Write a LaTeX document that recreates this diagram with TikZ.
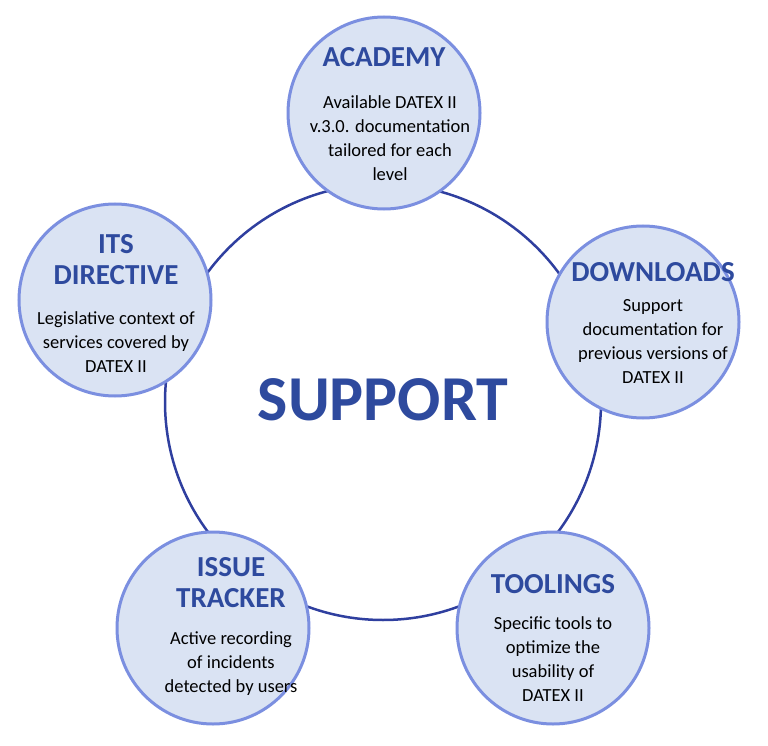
\documentclass[tikz,border=0pt]{standalone}
\usepackage{fontspec}
\setmainfont{Carlito}
\definecolor{ring}{HTML}{2F3F9F}
\definecolor{cfill}{HTML}{DAE3F3}
\definecolor{cedge}{HTML}{7B8FE0}
\definecolor{ttl}{HTML}{2E4A9E}
\begin{document}
\begin{tikzpicture}[x=1pt,y=-1pt,
  bub/.style={circle,draw=cedge,fill=cfill,line width=3pt,minimum size=192pt,inner sep=0pt},
  ttlt/.style={text=ttl,font=\bfseries\fontsize{29}{31}\selectfont,align=center},
  bodyt/.style={font=\fontsize{18.5}{24}\selectfont,align=center}]
\useasboundingbox (0,0) rectangle (768,746);
\node[circle,draw=ring,line width=2.5pt,minimum size=436pt,inner sep=0pt] (ring) at (383,402) {};
\node[text=ttl,font=\bfseries\fontsize{64}{70}\selectfont] (sup) at (383,400) {SUPPORT};
\node[bub] (aca) at (384,113) {};
\node[bub] (dow) at (643,322) {};
\node[bub] (too) at (553,628) {};
\node[bub] (iss) at (213,628) {};
\node[bub] (its) at (115,300) {};
\node[ttlt] (acat) at (384,57) {ACADEMY};
\node[bodyt] (acab) at (390,138) {Available DATEX II\\v.3.0. documentation\\tailored for each\\level};
\node[ttlt] (dowt) at (653,272) {DOWNLOADS};
\node[bodyt] (dowb) at (653,341) {Support\\documentation for\\previous versions of\\DATEX II};
\node[ttlt] (toot) at (553,584) {TOOLINGS};
\node[bodyt] (toob) at (553,659) {Specific tools to\\optimize the\\usability of\\DATEX II};
\node[ttlt] (isst) at (231,583) {ISSUE\\TRACKER};
\node[bodyt] (issb) at (231,664) {Active recording\\of incidents\\detected by users};
\node[ttlt] (itst) at (116,260) {ITS\\DIRECTIVE};
\node[bodyt] (itsb) at (116,342) {Legislative context of\\services covered by\\DATEX II};
\end{tikzpicture}
\end{document}
